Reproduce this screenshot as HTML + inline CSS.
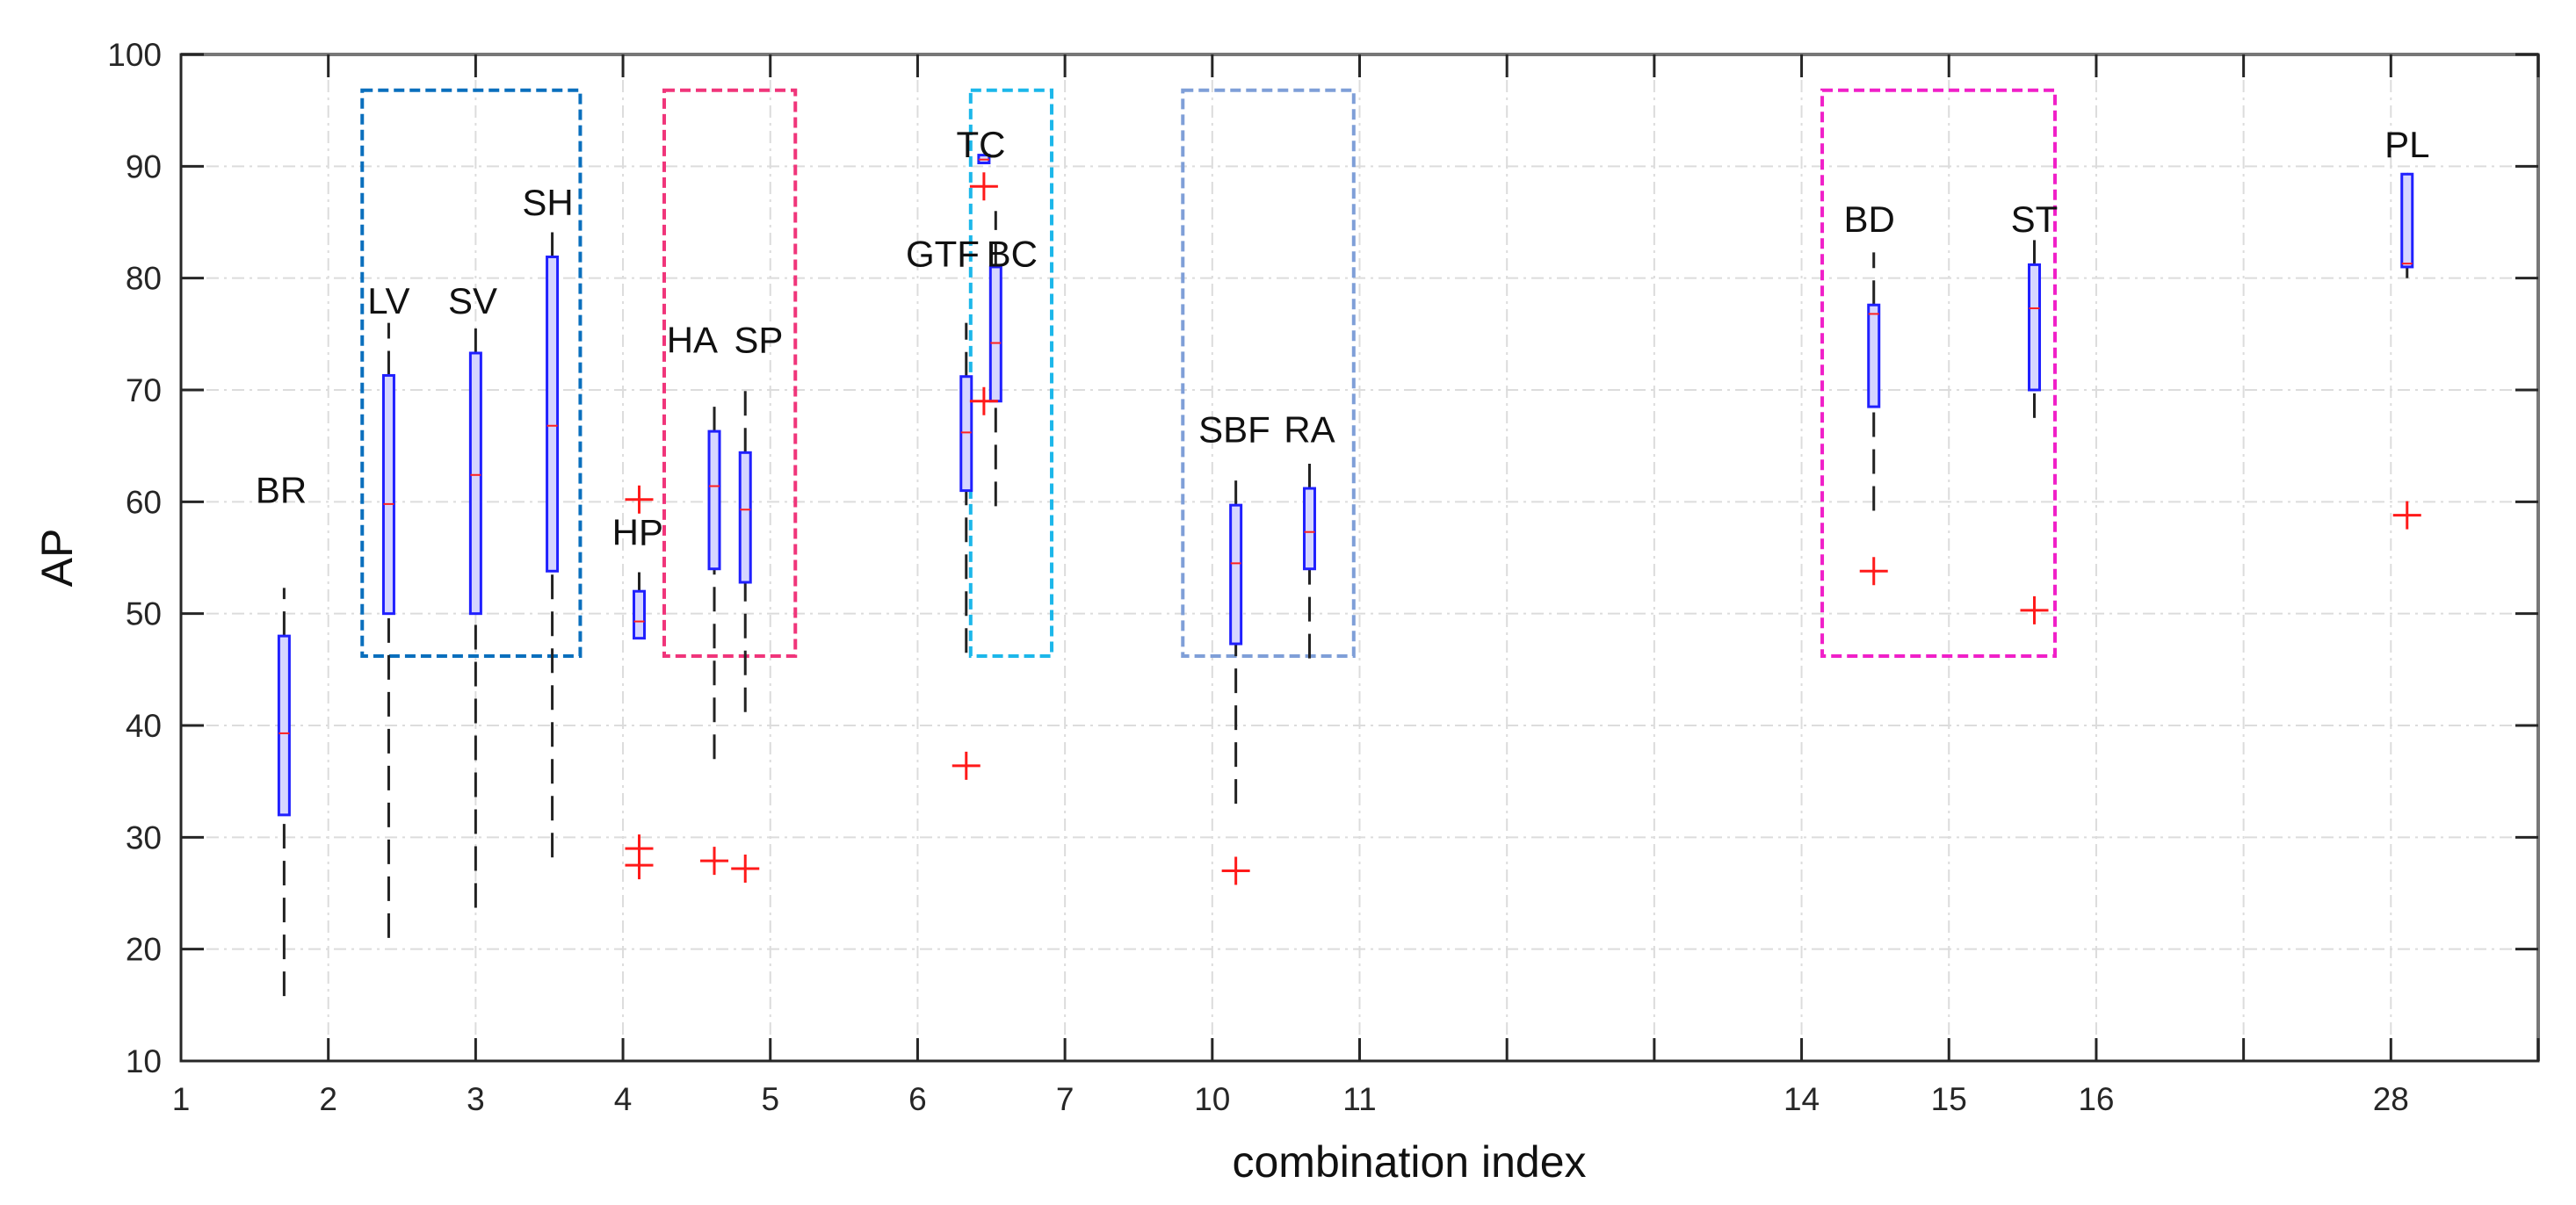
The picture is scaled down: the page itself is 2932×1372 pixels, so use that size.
<!DOCTYPE html>
<html><head><meta charset="utf-8"><style>
body{margin:0;background:#fff}
svg{display:block;font-family:"Liberation Sans",sans-serif}
</style></head><body>
<svg id="chart" width="2932" height="1372" viewBox="0 0 2932 1372" xmlns="http://www.w3.org/2000/svg"></svg>
<script>
const tickLabels=["1","2","3","4","5","6","7","10","11","","","14","15","16","","28",""];
const yTicks=[10,20,30,40,50,60,70,80,90,100];
const names=["BR","LV","SV","SH","HP","HA","SP","GTF","TC","BC","SBF","RA","BD","ST","PL"];
const positions=[0.70,1.41,2.0,2.52,3.11,3.62,3.83,5.33,5.45,5.53,7.16,7.66,11.49,12.58,15.11];
const q1=[32,50,50,53.8,47.8,54,52.8,61,90.3,69,47.3,54,68.5,70,81];
const medians=[39.3,59.8,62.4,66.8,49.3,61.4,59.3,66.2,90.6,74.2,54.5,57.3,76.8,77.3,81.3];
const q3=[48,71.3,73.3,81.9,52,66.3,64.4,71.2,91,81,59.7,61.2,77.6,81.2,89.3];
const whiskLow=[15.8,21,23.7,28.2,47.8,37,41.2,46.5,90.3,59.6,33,46,59.2,67.5,80];
const whiskHigh=[52.3,76,76,84.5,53.7,69.5,70,76,91,86,62,64.5,82.3,83.8,89.3];
const outlierPos=[3.11,3.11,3.11,3.62,3.83,5.33,5.45,5.45,7.16,11.49,12.58,15.11];
const outlierVals=[60.2,29,27.5,27.9,27.2,36.4,88.2,69,27,53.8,50.3,58.8];
const labelPos=[0.68,1.41,1.98,2.49,3.1,3.47,3.92,5.17,5.43,5.64,7.15,7.66,11.46,12.58,15.11];
const labelVals=[61.1,78,78,86.8,57.3,74.5,74.5,82.2,92,82.2,66.5,66.5,85.3,85.3,92];
const groupStart=[1.23,3.28,5.36,6.80,11.14];
const groupEnd=[2.71,4.17,5.91,7.96,12.72];
const groupColors=["#0a6fbd","#f0357a","#1cb7ea","#7f9fd8","#f020c8"];

const L=206,R=2889,T=62,B=1208;
const X=u=>L+u*(R-L)/16;
const Y=v=>B-(v-10)*(B-T)/90;
const svg=document.getElementById('chart');
const NS="http://www.w3.org/2000/svg";
function mk(tag,attrs,parent){const e=document.createElementNS(NS,tag);for(const k in attrs)e.setAttribute(k,attrs[k]);(parent||svg).appendChild(e);return e;}

for(let i=1;i<16;i++){const g=mk('line',{x1:X(i),x2:X(i),y1:T,y2:B,stroke:'#dcdcdc','stroke-width':2,'stroke-dasharray':'14 6 3 6'});

}
yTicks.slice(1,-1).forEach(v=>{const g=mk('line',{x1:L,x2:R,y1:Y(v),y2:Y(v),stroke:'#dcdcdc','stroke-width':2,'stroke-dasharray':'14 6 3 6'});

});

const fr=mk('rect',{x:L,y:T,width:R-L,height:B-T,fill:'none',stroke:'#262626','stroke-width':3});


mk('line',{x1:L,x2:R,y1:T,y2:T,stroke:'#777','stroke-width':4});
mk('line',{x1:R,x2:R,y1:T,y2:B,stroke:'#777','stroke-width':4});

tickLabels.forEach((t,i)=>{
  mk('line',{x1:X(i),x2:X(i),y1:B,y2:B-26,stroke:'#262626','stroke-width':3});
  mk('line',{x1:X(i),x2:X(i),y1:T,y2:T+26,stroke:'#262626','stroke-width':3});
  if(t){const tx=mk('text',{x:X(i),y:B+56,'font-size':37,'text-anchor':'middle',fill:'#262626'});tx.textContent=t;
  
  }
});
yTicks.forEach(v=>{
  mk('line',{x1:L,x2:L+26,y1:Y(v),y2:Y(v),stroke:'#262626','stroke-width':3});
  mk('line',{x1:R,x2:R-26,y1:Y(v),y2:Y(v),stroke:'#262626','stroke-width':3});
  const tx=mk('text',{x:L-22,y:Y(v)+13,'font-size':37,'text-anchor':'end',fill:'#262626'});tx.textContent=v;
  
  
});
const yt=mk('text',{x:0,y:0,'font-size':50,'text-anchor':'middle',fill:'#111',transform:`translate(82,${Y(55)}) rotate(-90)`});yt.textContent='AP';


const xt=mk('text',{x:1604,y:1340,'font-size':50,'text-anchor':'middle',fill:'#111'});xt.textContent='combination index';



groupStart.forEach((s,i)=>{
  const r=mk('rect',{x:X(s),y:Y(96.8),width:X(groupEnd[i])-X(s),height:Y(46.2)-Y(96.8),fill:'none',stroke:groupColors[i],'stroke-width':4,'stroke-dasharray':'12 6'});
  
  
});

const hw=6;
names.forEach((n,i)=>{
  const x=X(positions[i]);
  const g=mk('g',{});
  
  
  mk('line',{x1:x,x2:x,y1:Y(whiskLow[i]),y2:Y(q1[i]),stroke:'#222','stroke-width':3,'stroke-dasharray':'28 14'},g);
  mk('line',{x1:x,x2:x,y1:Y(q3[i]),y2:Y(whiskHigh[i]),stroke:'#222','stroke-width':3,'stroke-dasharray':'28 14'},g);
  mk('rect',{x:x-hw,y:Y(q3[i]),width:hw*2,height:Math.max(3,Y(q1[i])-Y(q3[i])),fill:'#d6d6ff',stroke:'#2020ff','stroke-width':3},g);
  mk('line',{x1:x-hw,x2:x+hw,y1:Y(medians[i]),y2:Y(medians[i]),stroke:'#ff2020','stroke-width':2},g);
  const lb=mk('text',{x:X(labelPos[i]),y:Y(labelVals[i])+15,'font-size':42,'text-anchor':'middle',fill:'#111'});lb.textContent=n;
  
  
});
outlierPos.forEach((u,i)=>{
  const x=X(u),y=Y(outlierVals[i]);
  const p=mk('path',{d:`M${x-16} ${y}H${x+16}M${x} ${y-16}V${y+16}`,stroke:'#ff1a1a','stroke-width':3,fill:'none'});
  
  
});
</script>
</body></html>
